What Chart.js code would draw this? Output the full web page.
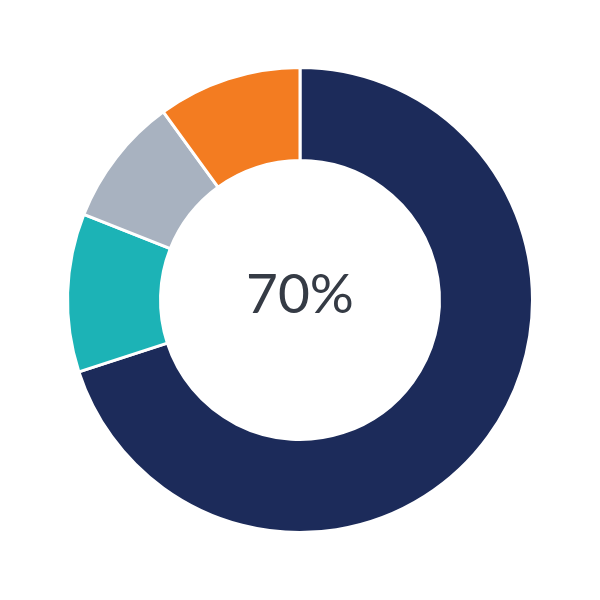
<!DOCTYPE html>
<html>
<head>
<meta charset="utf-8">
<script src="https://cdn.jsdelivr.net/npm/chart.js@4/dist/chart.umd.min.js"></script>
<style>
  html, body { margin: 0; padding: 0; background: #fff; }
  #wrap { position: relative; width: 600px; height: 600px; }
  #center { position: absolute; left: 0; top: -8px; width: 600px; height: 600px;
    display: flex; align-items: center; justify-content: center;
    font-family: Lato, "Open Sans", sans-serif; font-weight: 400; font-size: 55px; color: #353b45; }
</style>
</head>
<body>
<div id="wrap">
  <canvas id="chart" width="600" height="600"></canvas>
  <div id="center"><span id="centerText"></span></div>
</div>
<script>
// --- Data ---
const categories = ['Main', 'Teal', 'Gray', 'Orange'];
const shares = [70, 11, 9, 10];
const sliceColors = ['#1c2b5a', '#1cb3b6', '#a8b2c0', '#f37c21'];
const centerLabel = shares[0] + '%';

document.getElementById('centerText').textContent = centerLabel;

const ctx = document.getElementById('chart').getContext('2d');
new Chart(ctx, {
    type: 'doughnut',
    data: {
        labels: categories,
        datasets: [{ data: shares, backgroundColor: sliceColors, borderColor: '#ffffff', borderWidth: 3 }]
    },
    options: {
        responsive: false, animation: false,
        cutout: '60%',
        layout: { padding: 66 },
        plugins: { legend: { display: false }, tooltip: { enabled: false } }
    }
});
</script>
</body>
</html>
